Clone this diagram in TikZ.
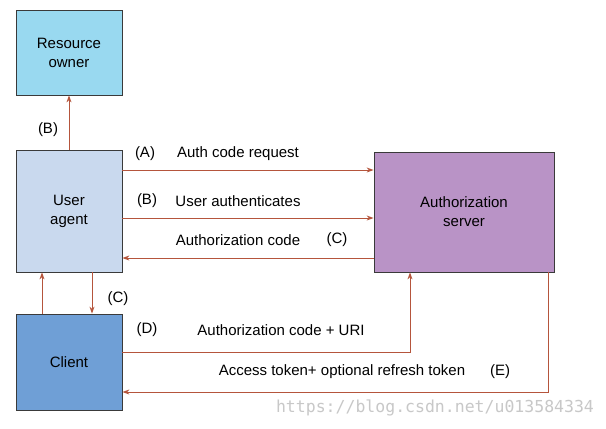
\documentclass[tikz,border=0pt]{standalone}
\usepackage{fontspec}
\setmainfont{Liberation Sans}
\newfontfamily\wmono{DejaVu Sans Mono}
\usetikzlibrary{arrows.meta}
\definecolor{arr}{HTML}{B5553C}
\definecolor{bord}{HTML}{3A3A3A}
\begin{document}
\begin{tikzpicture}[x=1pt,y=-1pt,
 box/.style={draw=bord,line width=0.8pt,align=center,font=\fontsize{15}{19}\selectfont,inner sep=0},
 ar/.style={draw=arr,line width=1pt,-{Stealth[length=7pt,width=5pt]}},
 lb/.style={font=\fontsize{15}{18}\selectfont,inner sep=1pt}]
\useasboundingbox[fill=white] (0,0) rectangle (606,429);
\node[box,fill={rgb,255:red,153;green,217;blue,240},minimum width=106pt,minimum height=85pt] (ro) at (69,52.5) {Resource\\owner};
\node[box,fill={rgb,255:red,201;green,217;blue,238},minimum width=106pt,minimum height=122pt] (ua) at (69,211) {User\\agent};
\node[box,fill={rgb,255:red,111;green,159;blue,214},minimum width=106pt,minimum height=96pt] (cl) at (69,362) {Client};
\node[box,fill={rgb,255:red,185;green,147;blue,198},minimum width=180pt,minimum height=120pt] (as) at (464,212) {Authorization\\server};
\coordinate (d1) at (410,352);
\coordinate (e1) at (548,392);
\draw[ar] (ua.north) -- (ro.south);
\node[lb] (lb0) at (48,130) {(B)};
\draw[ar] (ua.east |- 0,170) -- (as.west |- 0,170);
\node[lb] (la1) at (145,154) {(A)};
\node[lb] (la2) at (238,154) {Auth code request};
\draw[ar] (ua.east |- 0,218) -- (as.west |- 0,218);
\node[lb] (lb1) at (147,201) {(B)};
\node[lb] (lb2) at (238,201) {User authenticates};
\draw[ar] (as.west |- 0,258) -- (ua.east |- 0,258);
\node[lb] (lc1) at (238,240) {Authorization code};
\node[lb] (lc2) at (337,240) {(C)};
\draw[ar] (cl.north -| 42,0) -- (ua.south -| 42,0);
\draw[ar] (ua.south -| 92,0) -- (cl.north -| 92,0);
\node[lb] (lc3) at (118,299) {(C)};
\draw[ar] (cl.east |- d1) -- (d1) -- (as.south -| d1);
\node[lb] (ld1) at (147,330) {(D)};
\node[lb] (ld2) at (281,330) {Authorization code + URI};
\draw[ar] (as.south -| e1) -- (e1) -- (cl.east |- e1);
\node[lb] (le1) at (342,372) {Access token+ optional refresh token};
\node[lb] (le2) at (500,372) {(E)};
\node[font=\wmono\fontsize{16.5}{20}\selectfont,text={rgb,255:red,200;green,200;blue,200}] (wm) at (435,408) {https://blog.csdn.net/u013584334};
\end{tikzpicture}
\end{document}
